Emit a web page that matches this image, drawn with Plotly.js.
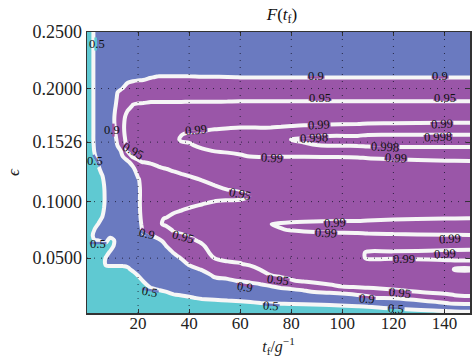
<!DOCTYPE html>
<html>
<head>
<meta charset="utf-8">
<script src="https://cdn.plot.ly/plotly-3.0.1.min.js"></script>
<style>html,body{margin:0;padding:0;background:#fff}#chart{width:474px;height:357px}</style>
</head>
<body>
<div id="chart"></div>
<script>
// t_f / g^-1 sample columns
const tfCols = [0,1.5,3,4.5,6,7.5,9,10.5,12,14,16,18,20,22,25,28,31,34,37,40,45,50,55,60,64,68,72,76,80,85,95,106,110,120,141,144,150];
// epsilon sample rows
const epsRows = [0,0.005,0.01,0.015,0.02,0.025,0.03,0.035,0.04,0.045,0.05,0.055,0.06,0.065,0.07,0.075,0.08,0.085,0.09,0.095,0.1,0.105,0.11,0.115,0.12,0.125,0.13,0.135,0.14,0.145,0.15,0.155,0.16,0.165,0.17,0.175,0.18,0.185,0.19,0.195,0.2,0.205,0.21,0.215,0.23,0.25];

// Fidelity F(t_f), one column per t_f (values along epsilon)
const F_t0 = [0.1,0.17,0.23,0.28,0.32,0.35,0.37,0.38,0.39,0.4, 0.4,0.4,0.4,0.4,0.4,0.4,0.4,0.4,0.4,0.4, 0.4,0.4,0.4,0.4,0.4,0.4,0.4,0.4,0.4,0.4, 0.4,0.4,0.4,0.4,0.4,0.4,0.4,0.4,0.4,0.4, 0.4,0.4,0.4,0.4,0.4,0.4];
const F_t1_5 = [0.1,0.18,0.25,0.3,0.34,0.37,0.4,0.42,0.43,0.44, 0.44,0.44,0.45,0.46,0.47,0.44,0.44,0.44,0.44,0.44, 0.44,0.44,0.44,0.44,0.44,0.44,0.44,0.44,0.44,0.44, 0.44,0.44,0.44,0.44,0.44,0.44,0.44,0.44,0.44,0.44, 0.44,0.44,0.44,0.44,0.44,0.44];
const F_t3 = [0.1,0.18,0.25,0.3,0.34,0.37,0.4,0.42,0.43,0.44, 0.45,0.45,0.46,0.49,0.53,0.505,0.47,0.45,0.43,0.42, 0.42,0.42,0.42,0.43,0.44,0.45,0.45,0.46,0.49,0.51, 0.52,0.53,0.53,0.53,0.53,0.53,0.53,0.53,0.53,0.53, 0.53,0.53,0.53,0.53,0.53,0.53];
const F_t4_5 = [0.1,0.18,0.25,0.3,0.34,0.37,0.4,0.42,0.43,0.44, 0.45,0.46,0.47,0.495,0.53,0.53,0.505,0.47,0.45,0.44, 0.43,0.43,0.43,0.44,0.45,0.47,0.49,0.51,0.54,0.57, 0.59,0.6,0.61,0.62,0.63,0.63,0.64,0.64,0.64,0.65, 0.65,0.65,0.65,0.65,0.65,0.65];
const F_t6 = [0.1,0.18,0.25,0.3,0.34,0.37,0.4,0.42,0.44,0.46, 0.46,0.46,0.47,0.505,0.54,0.55,0.54,0.51,0.48,0.46, 0.45,0.45,0.45,0.46,0.48,0.51,0.55,0.59,0.62,0.64, 0.66,0.67,0.68,0.69,0.7,0.7,0.7,0.7,0.7,0.7, 0.7,0.7,0.7,0.7,0.7,0.7];
const F_t7_5 = [0.1,0.18,0.25,0.3,0.34,0.37,0.4,0.43,0.47,0.515, 0.51,0.47,0.46,0.51,0.57,0.6,0.6,0.58,0.56,0.545, 0.535,0.535,0.54,0.55,0.57,0.6,0.63,0.66,0.68,0.7, 0.71,0.72,0.73,0.74,0.745,0.75,0.75,0.75,0.75,0.75, 0.75,0.75,0.75,0.75,0.75,0.75];
const F_t9 = [0.1,0.18,0.25,0.3,0.34,0.37,0.4,0.43,0.47,0.52, 0.54,0.51,0.46,0.47,0.52,0.58,0.63,0.66,0.68,0.7, 0.71,0.72,0.73,0.74,0.75,0.76,0.77,0.78,0.79,0.8, 0.81,0.82,0.83,0.835,0.84,0.84,0.835,0.83,0.82,0.81, 0.8,0.8,0.79,0.79,0.77,0.75];
const F_t10_5 = [0.1,0.18,0.25,0.3,0.34,0.37,0.4,0.43,0.47,0.52, 0.54,0.53,0.51,0.48,0.56,0.62,0.66,0.69,0.71,0.73, 0.74,0.75,0.76,0.77,0.78,0.79,0.8,0.81,0.82,0.835, 0.85,0.865,0.88,0.89,0.895,0.895,0.89,0.88,0.87,0.86, 0.85,0.84,0.83,0.82,0.79,0.75];
const F_t12 = [0.1,0.18,0.25,0.3,0.34,0.37,0.4,0.43,0.47,0.52, 0.56,0.59,0.61,0.63,0.645,0.66,0.67,0.68,0.69,0.7, 0.71,0.72,0.73,0.74,0.75,0.76,0.78,0.8,0.83,0.865, 0.905,0.918,0.925,0.928,0.929,0.928,0.925,0.92,0.913,0.905, 0.89,0.87,0.85,0.83,0.79,0.75];
const F_t14 = [0.1,0.18,0.25,0.3,0.34,0.37,0.4,0.43,0.47,0.52, 0.56,0.59,0.62,0.64,0.66,0.68,0.7,0.71,0.72,0.73, 0.74,0.75,0.76,0.77,0.78,0.8,0.82,0.85,0.8995,0.925, 0.935,0.94,0.944,0.946,0.946,0.945,0.942,0.937,0.93,0.918, 0.901,0.88,0.86,0.84,0.8,0.75];
const F_t16 = [0.1,0.18,0.25,0.3,0.34,0.37,0.4,0.43,0.48,0.53, 0.57,0.6,0.63,0.66,0.69,0.71,0.73,0.75,0.77,0.78, 0.79,0.8,0.81,0.82,0.83,0.845,0.865,0.893,0.93,0.955, 0.959,0.961,0.962,0.961,0.959,0.956,0.951,0.943,0.934,0.925, 0.914,0.9005,0.88,0.86,0.81,0.75];
const F_t18 = [0.1,0.18,0.25,0.3,0.35,0.39,0.43,0.46,0.52,0.56, 0.6,0.64,0.67,0.7,0.73,0.76,0.78,0.8,0.82,0.83, 0.84,0.85,0.86,0.865,0.872,0.88,0.895,0.92,0.956,0.96, 0.962,0.963,0.963,0.962,0.96,0.958,0.955,0.951,0.944,0.932, 0.92,0.905,0.888,0.86,0.82,0.75];
const F_t20 = [0.1,0.18,0.25,0.31,0.37,0.42,0.46,0.505,0.55,0.6, 0.64,0.68,0.72,0.76,0.8,0.84,0.87,0.88,0.885,0.888, 0.89,0.891,0.892,0.894,0.897,0.91,0.925,0.948,0.953,0.956, 0.958,0.959,0.96,0.96,0.959,0.958,0.956,0.953,0.945,0.934, 0.922,0.908,0.89,0.87,0.82,0.75];
const F_t22 = [0.1,0.18,0.26,0.33,0.4,0.45,0.505,0.56,0.61,0.65, 0.69,0.73,0.77,0.81,0.885,0.915,0.918,0.92,0.921,0.92, 0.918,0.915,0.913,0.913,0.915,0.92,0.93,0.9505,0.955,0.958, 0.96,0.961,0.962,0.961,0.96,0.958,0.956,0.953,0.946,0.935, 0.924,0.905,0.895,0.87,0.82,0.75];
const F_t25 = [0.1,0.19,0.28,0.36,0.44,0.52,0.58,0.63,0.67,0.71, 0.74,0.77,0.8,0.86,0.899,0.91,0.922,0.93,0.933,0.93, 0.923,0.917,0.913,0.913,0.917,0.925,0.94,0.954,0.96,0.964, 0.966,0.968,0.968,0.967,0.965,0.962,0.958,0.954,0.9475,0.936, 0.926,0.915,0.8985,0.88,0.83,0.75];
const F_t28 = [0.1,0.2,0.3,0.39,0.47,0.55,0.62,0.68,0.73,0.77, 0.8,0.83,0.86,0.89,0.912,0.928,0.947,0.948,0.94,0.93, 0.922,0.917,0.914,0.915,0.92,0.93,0.948,0.958,0.964,0.969, 0.972,0.974,0.974,0.972,0.969,0.965,0.96,0.955,0.947,0.936, 0.926,0.915,0.903,0.885,0.83,0.75];
const F_t31 = [0.1,0.2,0.31,0.41,0.495,0.57,0.64,0.7,0.75,0.79, 0.83,0.86,0.898,0.91,0.925,0.942,0.9535,0.951,0.944,0.935, 0.928,0.923,0.92,0.921,0.926,0.937,0.953,0.962,0.97,0.976, 0.98,0.982,0.982,0.979,0.974,0.968,0.961,0.955,0.947,0.936, 0.926,0.915,0.903,0.885,0.83,0.75];
const F_t34 = [0.1,0.21,0.33,0.44,0.54,0.62,0.69,0.74,0.79,0.83, 0.87,0.905,0.915,0.926,0.944,0.953,0.957,0.956,0.9498,0.943, 0.935,0.929,0.926,0.927,0.933,0.946,0.958,0.968,0.975,0.981, 0.985,0.987,0.9865,0.983,0.977,0.97,0.962,0.955,0.947,0.936, 0.926,0.915,0.903,0.885,0.83,0.75];
const F_t37 = [0.1,0.22,0.35,0.46,0.56,0.65,0.72,0.78,0.83,0.87, 0.905,0.918,0.928,0.937,0.948,0.955,0.958,0.957,0.953,0.946, 0.938,0.932,0.93,0.932,0.94,0.951,0.962,0.972,0.979,0.984, 0.988,0.9912,0.9895,0.985,0.979,0.971,0.963,0.955,0.947,0.936, 0.926,0.915,0.903,0.885,0.83,0.75];
const F_t40 = [0.1,0.23,0.37,0.48,0.6,0.69,0.76,0.82,0.87,0.91, 0.92,0.928,0.936,0.944,0.952,0.956,0.958,0.958,0.955,0.9495, 0.943,0.937,0.934,0.937,0.945,0.955,0.966,0.975,0.981,0.985, 0.989,0.9915,0.991,0.987,0.98,0.972,0.964,0.956,0.947,0.936, 0.926,0.915,0.903,0.885,0.83,0.75];
const F_t45 = [0.1,0.24,0.4,0.53,0.65,0.74,0.81,0.86,0.905,0.915, 0.93,0.94,0.946,0.953,0.958,0.961,0.962,0.961,0.958,0.953, 0.947,0.94,0.938,0.944,0.952,0.962,0.97,0.977,0.982,0.9885, 0.992,0.9935,0.992,0.988,0.982,0.973,0.964,0.956,0.947,0.936, 0.926,0.914,0.902,0.88,0.83,0.75];
const F_t50 = [0.1,0.25,0.41,0.55,0.68,0.78,0.875,0.915,0.93,0.94, 0.9505,0.958,0.961,0.963,0.964,0.965,0.965,0.963,0.959,0.955, 0.9505,0.943,0.943,0.951,0.96,0.968,0.975,0.981,0.986,0.9905, 0.9925,0.993,0.992,0.9895,0.984,0.975,0.965,0.956,0.947,0.936, 0.925,0.913,0.902,0.88,0.83,0.75];
const F_t55 = [0.1,0.26,0.43,0.57,0.7,0.8,0.89,0.92,0.935,0.947, 0.954,0.958,0.962,0.965,0.967,0.968,0.968,0.966,0.962,0.957, 0.952,0.944,0.949,0.957,0.966,0.974,0.98,0.985,0.988,0.991, 0.9925,0.993,0.9925,0.9899,0.985,0.976,0.966,0.957,0.947,0.936, 0.925,0.913,0.901,0.88,0.83,0.75];
const F_t60 = [0.1,0.27,0.45,0.59,0.72,0.83,0.905,0.925,0.94,0.949, 0.955,0.96,0.964,0.967,0.969,0.971,0.972,0.97,0.965,0.958, 0.952,0.946,0.952,0.96,0.969,0.976,0.982,0.986,0.9893,0.9915, 0.9925,0.9928,0.9925,0.9905,0.9855,0.977,0.967,0.957,0.9476,0.9357, 0.924,0.912,0.8995,0.88,0.83,0.75];
const F_t64 = [0.1,0.28,0.47,0.6,0.74,0.86,0.92,0.93,0.942,0.954, 0.96,0.965,0.968,0.971,0.974,0.977,0.979,0.978,0.972,0.962, 0.953,0.9505,0.955,0.963,0.972,0.979,0.984,0.987,0.9901,0.9915, 0.9922,0.9925,0.992,0.9905,0.986,0.978,0.968,0.958,0.9476,0.9357, 0.924,0.912,0.8995,0.88,0.83,0.75];
const F_t68 = [0.1,0.29,0.49,0.62,0.76,0.89,0.915,0.935,0.951,0.958, 0.963,0.967,0.971,0.974,0.977,0.981,0.9835,0.982,0.978,0.972, 0.965,0.962,0.966,0.972,0.978,0.982,0.985,0.9875,0.9903,0.991, 0.992,0.9925,0.992,0.9903,0.9863,0.978,0.968,0.958,0.9476,0.9357, 0.924,0.912,0.8995,0.88,0.83,0.75];
const F_t72 = [0.1,0.3,0.505,0.64,0.78,0.898,0.93,0.9505,0.958,0.964, 0.968,0.972,0.975,0.978,0.981,0.987,0.9899,0.985,0.982,0.98, 0.979,0.978,0.978,0.979,0.981,0.983,0.985,0.9875,0.9903,0.992, 0.994,0.9955,0.994,0.9905,0.9865,0.978,0.968,0.958,0.9476,0.9357, 0.924,0.912,0.8995,0.88,0.83,0.75];
const F_t76 = [0.1,0.31,0.51,0.66,0.86,0.915,0.94,0.956,0.963,0.968, 0.972,0.975,0.978,0.98,0.984,0.9895,0.9912,0.986,0.983,0.981, 0.979,0.978,0.978,0.979,0.981,0.983,0.985,0.9875,0.9902,0.9925, 0.9955,0.997,0.995,0.991,0.987,0.979,0.969,0.958,0.9476,0.9357, 0.924,0.912,0.8995,0.88,0.83,0.75];
const F_t80 = [0.1,0.32,0.52,0.68,0.87,0.925,0.948,0.958,0.965,0.97, 0.974,0.977,0.98,0.982,0.985,0.9905,0.992,0.9865,0.983,0.981, 0.979,0.978,0.978,0.979,0.981,0.983,0.985,0.9875,0.9902,0.993, 0.9965,0.9981,0.9955,0.9915,0.9875,0.979,0.969,0.958,0.9476,0.9357, 0.924,0.912,0.8995,0.88,0.83,0.75];
const F_t85 = [0.1,0.33,0.53,0.7,0.89,0.925,0.954,0.962,0.968,0.973, 0.977,0.98,0.982,0.983,0.986,0.9915,0.9925,0.987,0.984,0.981, 0.979,0.978,0.978,0.979,0.981,0.983,0.985,0.9875,0.9902,0.9935, 0.9975,0.9986,0.996,0.992,0.988,0.979,0.969,0.958,0.9476,0.9357, 0.924,0.912,0.8995,0.88,0.83,0.75];
const F_t95 = [0.1,0.35,0.56,0.8,0.915,0.946,0.958,0.966,0.972,0.977, 0.981,0.983,0.984,0.984,0.987,0.9925,0.993,0.9875,0.984,0.981, 0.979,0.978,0.978,0.979,0.981,0.983,0.985,0.9875,0.9903,0.9945, 0.9985,0.9988,0.9975,0.9925,0.9885,0.979,0.969,0.958,0.9476,0.9357, 0.924,0.912,0.8995,0.88,0.83,0.75];
const F_t106 = [0.12,0.4,0.6,0.88,0.92,0.955,0.963,0.97,0.977,0.982, 0.986,0.987,0.985,0.984,0.9875,0.993,0.9935,0.9875,0.984,0.981, 0.979,0.978,0.978,0.979,0.981,0.983,0.985,0.9877,0.9905,0.995, 0.9985,0.9985,0.9977,0.993,0.989,0.979,0.969,0.958,0.9476,0.9357, 0.924,0.912,0.8995,0.88,0.83,0.75];
const F_t110 = [0.12,0.42,0.62,0.89,0.925,0.957,0.964,0.972,0.978,0.983, 0.9915,0.9912,0.985,0.984,0.988,0.9935,0.994,0.988,0.984,0.981, 0.979,0.978,0.978,0.979,0.981,0.983,0.9855,0.988,0.991,0.9955, 0.9988,0.9988,0.9978,0.9935,0.9893,0.979,0.969,0.958,0.9476,0.9357, 0.924,0.912,0.8995,0.88,0.83,0.75];
const F_t120 = [0.15,0.48,0.7,0.925,0.945,0.956,0.965,0.974,0.98,0.984, 0.9908,0.991,0.986,0.985,0.9885,0.994,0.9945,0.989,0.985,0.982, 0.98,0.979,0.979,0.98,0.982,0.984,0.986,0.9885,0.9915,0.996, 0.999,0.999,0.9978,0.9935,0.9895,0.979,0.969,0.958,0.9476,0.9357, 0.924,0.912,0.8995,0.88,0.83,0.75];
const F_t141 = [0.15,0.7,0.897,0.94,0.955,0.964,0.972,0.979,0.984,0.985, 0.9928,0.9928,0.986,0.986,0.9893,0.9945,0.995,0.9901,0.986,0.983, 0.981,0.98,0.98,0.981,0.983,0.985,0.987,0.9892,0.9926,0.996, 0.999,0.999,0.9978,0.994,0.9898,0.9795,0.969,0.958,0.9476,0.9357, 0.924,0.912,0.8995,0.88,0.83,0.75];
const F_t144 = [0.17,0.75,0.91,0.945,0.956,0.965,0.974,0.984,0.9908,0.985, 0.9933,0.9933,0.986,0.986,0.9893,0.9945,0.995,0.9901,0.986,0.983, 0.981,0.98,0.98,0.981,0.983,0.985,0.987,0.9892,0.9926,0.996, 0.999,0.999,0.9978,0.994,0.9898,0.9795,0.969,0.958,0.9476,0.9357, 0.924,0.912,0.8995,0.88,0.83,0.75];
const F_t150 = [0.2,0.8,0.91,0.947,0.957,0.966,0.975,0.984,0.9915,0.985, 0.9935,0.9935,0.986,0.986,0.9895,0.9945,0.995,0.9903,0.986,0.983, 0.981,0.98,0.98,0.981,0.983,0.985,0.987,0.9893,0.9927,0.996, 0.999,0.999,0.9978,0.994,0.9898,0.9795,0.969,0.958,0.9476,0.9357, 0.924,0.912,0.8995,0.88,0.83,0.75];

const fidelityColumns = [F_t0,F_t1_5,F_t3,F_t4_5,F_t6,F_t7_5,F_t9,F_t10_5,F_t12,F_t14,F_t16,F_t18,F_t20,F_t22,F_t25,F_t28,F_t31,F_t34,F_t37,F_t40,F_t45,F_t50,F_t55,F_t60,F_t64,F_t68,F_t72,F_t76,F_t80,F_t85,F_t95,F_t106,F_t110,F_t120,F_t141,F_t144,F_t150];

// contour levels drawn as labelled white lines
const lineLevels = [0.5, 0.9, 0.95, 0.99, 0.998];
const levelText = ['0.5', '0.9', '0.95', '0.99', '0.998'];
// filled bands: below 0.5 (c), 0.5-0.9 (b), above 0.9 (p)
const bandColors = ['#5fc9d2', '#6a7ac0', '#9a56a8'];
const bandKey = {c: bandColors[0], b: bandColors[1], p: bandColors[2]};

// inline label spots: [level index, t_f, epsilon, text angle, line-gap angle, gap length px, band on one side, band on other side]
const labelSpots = [
  [0, 3.9, 0.2394, 0, 90, 13, 'b', 'c'], [0, 3.3, 0.1357, 0, 60, 13, 'b', 'c'], [0, 4.3, 0.0621, 0, 0, 17, 'b', 'c'],
  [0, 24.7, 0.0205, 10, 10, 17, 'b', 'c'], [0, 72.1, 0.0075, 4, 4, 17, 'b', 'c'], [0, 121, 0.0048, 3, 3, 17, 'b', 'c'],
  [1, 89.7, 0.2110, 0, 0, 17, 'b', 'p'], [1, 138.3, 0.2110, 0, 0, 17, 'b', 'p'], [1, 9.8, 0.1632, 0, 90, 13, 'p', 'b'],
  [1, 23.5, 0.0718, 12, 30, 15, 'p', 'b'], [1, 61.9, 0.0249, 9, 9, 17, 'p', 'b'], [1, 109.7, 0.0143, 5, 5, 17, 'p', 'b'],
  [2, 91.3, 0.1915, 0, 0, 23, 'p', 'p'], [2, 140.2, 0.1915, 0, 0, 23, 'p', 'p'], [2, 18.0, 0.1446, 28, 40, 22, 'p', 'p'],
  [2, 59.9, 0.1064, 12, 12, 23, 'p', 'p'], [2, 37.6, 0.0683, 15, 15, 23, 'p', 'p'], [2, 74.8, 0.0311, 8, 8, 23, 'p', 'p'], [2, 122.6, 0.0196, 6, 6, 23, 'p', 'p'],
  [3, 42.7, 0.1632, -5, -5, 23, 'p', 'p'], [3, 90.9, 0.1676, -3, -3, 23, 'p', 'p'], [3, 139, 0.1685, -2, -2, 23, 'p', 'p'],
  [3, 72.5, 0.1383, 3, 3, 23, 'p', 'p'], [3, 121, 0.1383, 3, 3, 23, 'p', 'p'],
  [3, 97.1, 0.0808, -3, -3, 23, 'p', 'p'], [3, 93.6, 0.0719, 3, 3, 23, 'p', 'p'], [3, 142.2, 0.0666, -3, -3, 23, 'p', 'p'],
  [3, 124.2, 0.0489, 0, 0, 23, 'p', 'p'], [3, 140.2, 0.0533, -3, -3, 23, 'p', 'p'],
  [4, 88.9, 0.1560, -3, -3, 29, 'p', 'p'], [4, 137.5, 0.1570, -2, -2, 29, 'p', 'p'], [4, 116.7, 0.1486, 2, 2, 29, 'p', 'p']
];

// axis ticks
const xTicks = [20, 40, 60, 80, 100, 120, 140];
const yTicks = [0.05, 0.1, 0.1526, 0.2, 0.25];
const yTickText = ['0.0500', '0.1000', '0.1526', '0.2000', '0.2500'];

const serif = '"Liberation Serif", "DejaVu Serif", serif';
const labelSize = 12.5;

const traces = [{
  type: 'contour', x: tfCols, y: epsRows, z: fidelityColumns, transpose: true,
  autocontour: false,
  contours: {start: 0.5, end: 0.9, size: 0.4, coloring: 'fill', showlines: false},
  colorscale: [[0, bandColors[0]], [0.5, bandColors[1]], [1, bandColors[2]]],
  line: {width: 0, smoothing: 1},
  showscale: false, hoverinfo: 'skip'
}];
lineLevels.forEach((lv) => {
  traces.push({
    type: 'contour', x: tfCols, y: epsRows, z: fidelityColumns, transpose: true,
    autocontour: false,
    contours: {start: lv, end: lv, size: 1, coloring: 'none', showlabels: false},
    line: {color: '#f6f6f6', width: 4, smoothing: 1},
    showscale: false, hoverinfo: 'skip'
  });
});

const shapes = [];
// gaps in the contour lines under each inline label: two half-strips (one per side of the line), in pixels around the label
function gapPath(half, v0, v1, deg) {
  const th = deg * Math.PI / 180, c = Math.cos(th), sn = Math.sin(th);
  const pts = [[-half, v0], [half, v0], [half, v1], [-half, v1]].map(([u, v]) =>
    [(u * c - v * sn).toFixed(2), (-(u * sn + v * c)).toFixed(2)]);
  return 'M' + pts.map(p => p.join(',')).join('L') + 'Z';
}
labelSpots.forEach(s => {
  const half = s[5] / 2, hh = 2.6;
  [[-hh, 0, s[6]], [0, hh, s[7]]].forEach(([v0, v1, key]) => {
    shapes.push({type: 'path', xref: 'x', yref: 'y', xsizemode: 'pixel', ysizemode: 'pixel',
      xanchor: s[1], yanchor: s[2], layer: 'above',
      path: gapPath(half, v0, v1, s[4]), fillcolor: bandKey[key], line: {width: 0}});
  });
});
xTicks.forEach(t => shapes.push({type: 'line', xref: 'x', yref: 'paper', x0: t, x1: t, y0: 0, y1: 1, layer: 'above',
  line: {color: 'rgba(20,20,40,0.8)', width: 1, dash: '1px,6px'}}));
yTicks.slice(0, 4).forEach(t => shapes.push({type: 'line', xref: 'paper', yref: 'y', x0: 0, x1: 1, y0: t, y1: t, layer: 'above',
  line: {color: 'rgba(20,20,40,0.8)', width: 1, dash: '1px,6px'}}));

const annotations = labelSpots.map(s => ({
  xref: 'x', yref: 'y', x: s[1], y: s[2], text: levelText[s[0]], showarrow: false,
  textangle: s[3], borderpad: 0,
  font: {family: serif, size: labelSize, color: '#111'}
}));

const layout = {
  width: 474, height: 357,
  margin: {l: 87, r: 4, t: 32, b: 44},
  paper_bgcolor: '#fff', plot_bgcolor: '#fff',
  showlegend: false,
  title: {text: '<i>F</i>(<i>t</i><sub>f</sub>)', x: 0.595, xanchor: 'center', y: 0.962, yanchor: 'middle',
    font: {family: serif, size: 17, color: '#111'}},
  xaxis: {range: [0, 150], tickvals: xTicks, ticks: 'inside', ticklen: 4, tickcolor: '#333',
    showline: true, mirror: 'ticks', linecolor: '#333', linewidth: 1.5, showgrid: false, zeroline: false,
    tickfont: {family: serif, size: 17, color: '#222'}, ticklabelstandoff: -6,
    title: {text: '<i>t</i><sub>f</sub>/<i>g</i><sup>−1</sup>', font: {family: serif, size: 16, color: '#222'}, standoff: 9}},
  yaxis: {range: [0.0015, 0.25], tickvals: yTicks, ticktext: yTickText, ticks: 'inside', ticklen: 4, tickcolor: '#333',
    showline: true, mirror: 'ticks', linecolor: '#333', linewidth: 1.5, showgrid: false, zeroline: false,
    tickfont: {family: serif, size: 18, color: '#222'},
    title: {text: '\u00a0\u00a0\u00a0\u00a0\u00a0\u00a0\u00a0<i>ϵ</i>', font: {family: serif, size: 17, color: '#222'}, standoff: 8}},
  shapes: shapes,
  annotations: annotations
};

Plotly.newPlot('chart', traces, layout, {staticPlot: true, displayModeBar: false});
</script>
</body>
</html>
